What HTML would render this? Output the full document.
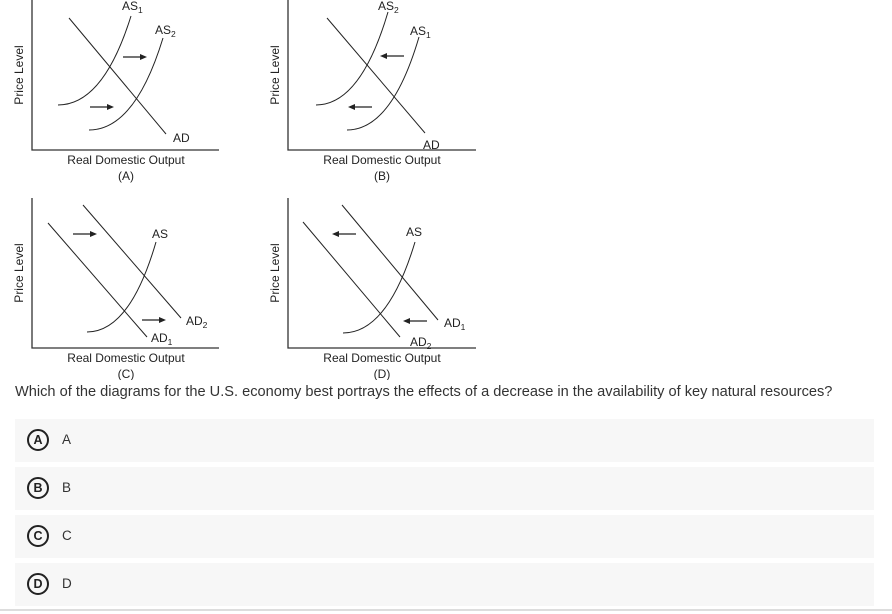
<!DOCTYPE html>
<html><head><meta charset="utf-8"><style>
body{margin:0;width:892px;height:614px;background:#fff;font-family:"Liberation Sans",sans-serif;overflow:hidden;position:relative}
svg{position:absolute;left:0;top:0}
.q{position:absolute;left:15px;top:384px;font-size:14.6px;color:#333;white-space:nowrap}
.opt{position:absolute;left:15px;width:859px;height:43px;background:#f7f7f7}
.circ{position:absolute;left:12px;top:10px;width:22px;height:22px;border:2px solid #222;border-radius:50%;box-sizing:border-box;font-size:12.5px;font-weight:bold;text-align:center;line-height:18px;color:#222}
.lab{position:absolute;left:47px;top:13px;font-size:13.5px;color:#333}
.bl{position:absolute;left:0;top:609px;width:892px;height:2px;background:#ddd}
</style></head><body>
<svg width="892" height="380" font-family="Liberation Sans, sans-serif" font-size="12" fill="#222"></svg>
<div class="q">Which of the diagrams for the U.S. economy best portrays the effects of a decrease in the availability of key natural resources?</div>
<div class="opt" style="top:419px"><div class="circ">A</div><div class="lab">A</div></div>
<div class="opt" style="top:467px"><div class="circ">B</div><div class="lab">B</div></div>
<div class="opt" style="top:515px"><div class="circ">C</div><div class="lab">C</div></div>
<div class="opt" style="top:563px"><div class="circ">D</div><div class="lab">D</div></div>
<div class="bl"></div>
<script>
const panels=[{ox:32,oy:150,w:187,t:"(A)"},{ox:288,oy:150,w:188,t:"(B)"},{ox:32,oy:348,w:187,t:"(C)"},{ox:288,oy:348,w:188,t:"(D)"}];
const lines=[[0,69,18,166,134],[1,327,18,425,133],[2,48,223,147,337],[2,83,205,181,318],[3,303,222,400,337],[3,342,205,438,320]];
const curves=[[0,58,105,131,16],[0,89,130,163,38],[1,316,105,388,12],[1,347,130,419,37],[2,87,332,156,242],[3,343,333,415,242]];
const arrows=[[0,123,57,147,57],[0,90,107,114,107],[1,404,56,380,56],[1,372,107,348,107],[2,73,234,97,234],[2,142,320,166,320],[3,356,234,332,234],[3,427,321,403,321]];
const labels=[["AS",1,122,10],["AS",2,155,34],["AD","",173,142],["AS",2,378,10],["AS",1,410,35],["AD","",423,149],["AS","",152,238],["AD",2,186,325],["AD",1,151,342],["AS","",406,236],["AD",1,444,327],["AD",2,410,346]];
const s=document.querySelector('svg');const N='http://www.w3.org/2000/svg';
function el(t,a,p){const e=document.createElementNS(N,t);for(const k in a)e.setAttribute(k,a[k]);(p||s).appendChild(e);return e;}
panels.forEach((p,i)=>{
 const a=el('path',{d:`M${p.ox} ${p.oy-150}V${p.oy}H${p.ox+p.w}`,fill:'none',stroke:'#333','stroke-width':1.3});
 
 const yt=el('text',{x:0,y:0,transform:`translate(${p.ox-9},${p.oy-75}) rotate(-90)`,'text-anchor':'middle','font-size':12});yt.textContent='Price Level';
 
 const xt=el('text',{x:p.ox+94,y:p.oy+14,'text-anchor':'middle','font-size':12});xt.textContent='Real Domestic Output';
 
 const pt=el('text',{x:p.ox+94,y:p.oy+30,'text-anchor':'middle','font-size':12});pt.textContent=p.t;
 
});
lines.forEach(l=>{const e=el('line',{x1:l[1],y1:l[2],x2:l[3],y2:l[4],stroke:'#222','stroke-width':1});
 });
curves.forEach(c=>{const cx=c[1]+(c[3]-c[1])*0.62,cy=c[2];
 const e=el('path',{d:`M${c[1]} ${c[2]}Q${cx} ${cy} ${c[3]} ${c[4]}`,fill:'none',stroke:'#222','stroke-width':1});
 });
arrows.forEach(r=>{const d=Math.sign(r[3]-r[1]);
 const g=el('g',{});
 el('line',{x1:r[1],y1:r[2],x2:r[3]-d*5,y2:r[4],stroke:'#222','stroke-width':1.2},g);
 el('path',{d:`M${r[3]} ${r[4]}L${r[3]-d*7} ${r[4]-3}L${r[3]-d*7} ${r[4]+3}Z`,fill:'#222'},g);});
labels.forEach(L=>{const t=el('text',{x:L[2],y:L[3]});t.textContent=L[0];
 
 if(L[1]!==''){const ts=el('tspan',{dy:3,'font-size':8.5},t);ts.textContent=L[1];}});
</script>
</body></html>
